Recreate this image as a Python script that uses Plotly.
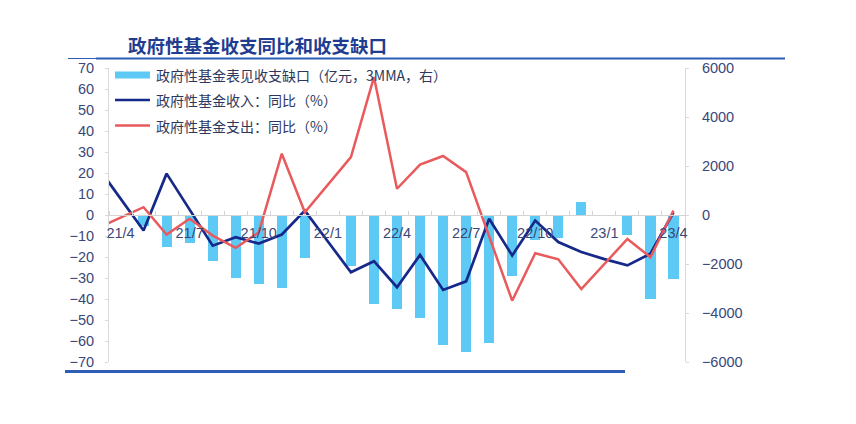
import plotly.graph_objects as go

# ---------------- data ----------------
months = ["21/3", "21/4", "21/5", "21/6", "21/7", "21/8", "21/9", "21/10", "21/11", "21/12",
          "22/1", "22/2", "22/3", "22/4", "22/5", "22/6", "22/7", "22/8", "22/9", "22/10",
          "22/11", "22/12", "23/1", "23/2", "23/3", "23/4"]

income_yoy = [23, 8, -7.4, 19.7, 2.5, -14.6, -10.6, -13.6, -9.3, 2.1,
              -12.6, -27.3, -22.0, -34.4, -19.0, -35.7, -31.6, -1.8, -19.3, -2.6,
              -12.9, -17.6, -21.0, -24.0, -18.4, 1.3]

expend_yoy = [-6.3, -1.2, 3.7, -9.3, -1.8, -9.8, -15.6, -8.3, 29.2, 1.3,
              14.4, 27.6, 65.7, 12.5, 24.0, 28.1, 20.4, -10.2, -40.8, -18.2,
              -21.1, -35.3, -23.3, -11.4, -20.1, 2.1]

gap_3mma = [None, None, -450, -1320, -1155, -1865, -2590, -2800, -2960, -1755,
            None, -2070, -3640, -3845, -4190, -5305, -5580, -5235, -2505, -1005,
            -920, 525, None, -800, -3435, -2615]

tick_labels = ["21/4", "21/7", "21/10", "22/1", "22/4", "22/7", "22/10", "23/1", "23/4"]
left_ticks = [70, 60, 50, 40, 30, 20, 10, 0, -10, -20, -30, -40, -50, -60, -70]
right_ticks = [6000, 4000, 2000, 0, -2000, -4000, -6000]

title_text = "政府性基金收支同比和收支缺口"
legend_names = ["政府性基金表见收支缺口（亿元，3MMA，右）",
                "政府性基金收入：同比（%）",
                "政府性基金支出：同比（%）"]

# ---------------- styles ----------------
C_BAR = "#5ccaf4"
C_NAVY = "#16298a"
C_RED = "#e95a5c"
C_TICK = "#3a4779"
C_TITLE = "#1f3c8f"
C_RULE = "#2f5cb6"
FONT_NUM = "Liberation Sans, Arial, Noto Sans CJK SC"
FONT_CJK = "Noto Sans CJK SC, Liberation Sans"

W, H = 856, 424
L, R, T, B = 109, 685, 68, 362   # plot area in pixels


def px(xp):
    return (xp - L) / (R - L)


def py(yp):
    return (B - yp) / (B - T)


xs = [i - 1 for i in range(len(months))]
idx = {m: i - 1 for i, m in enumerate(months)}

fig = go.Figure()

fig.add_trace(go.Bar(x=xs, y=gap_3mma, marker=dict(color=C_BAR, line=dict(width=0)),
                     width=0.44, yaxis="y", name=legend_names[0], showlegend=False))
fig.add_trace(go.Scatter(x=xs, y=income_yoy, mode="lines", line=dict(color=C_NAVY, width=2.7),
                         yaxis="y2", name=legend_names[1], showlegend=False))
fig.add_trace(go.Scatter(x=xs, y=expend_yoy, mode="lines", line=dict(color=C_RED, width=2.5),
                         yaxis="y2", name=legend_names[2], showlegend=False))

fig.update_layout(
    width=W, height=H,
    margin=dict(l=L, r=W - R, t=T, b=H - B, pad=0),
    paper_bgcolor="white", plot_bgcolor="white",
    bargap=0,
    xaxis=dict(
        range=[-0.5, 24.5], anchor="free", position=0.5,
        tickmode="array", tickvals=[idx[m] for m in tick_labels], ticktext=tick_labels,
        ticks="", showline=True, linecolor="#d4d4d4", linewidth=1.2,
        showgrid=False, zeroline=False,
        tickfont=dict(family=FONT_NUM, size=14.5, color=C_TICK),
        ticklabelstandoff=4,
        minor=dict(tick0=-0.5, dtick=1, ticks="inside", ticklen=4, tickcolor="#d4d4d4"),
    ),
    yaxis=dict(
        range=[-6000, 6000], side="right", tickmode="array", tickvals=right_ticks,
        showgrid=False, zeroline=False, showline=True, linecolor="#d9d9d9", linewidth=1,
        ticks="outside", ticklen=3, tickcolor="#d9d9d9",
        tickfont=dict(family=FONT_NUM, size=14.5, color=C_TICK),
        ticklabelstandoff=10,
    ),
    yaxis2=dict(
        range=[-70, 70], side="left", overlaying="y", tickmode="array", tickvals=left_ticks,
        showgrid=False, zeroline=False, showline=True, linecolor="#d9d9d9", linewidth=1,
        ticks="outside", ticklen=3, tickcolor="#d9d9d9",
        tickfont=dict(family=FONT_NUM, size=14.5, color=C_TICK),
        ticklabelstandoff=8,
    ),
    showlegend=False,
)

shapes = []
annotations = []

# title and rules
annotations.append(dict(text="<b>" + title_text + "</b>", xref="paper", yref="paper",
                        x=px(126), y=py(45), xanchor="left", yanchor="middle", showarrow=False,
                        font=dict(family=FONT_CJK, size=18.5, color=C_TITLE)))
shapes.append(dict(type="line", xref="paper", yref="paper", x0=px(68), x1=px(96),
                   y0=py(58.5), y1=py(58.5), line=dict(color=C_RULE, width=1)))
shapes.append(dict(type="line", xref="paper", yref="paper", x0=px(96), x1=px(785),
                   y0=py(58.5), y1=py(58.5), line=dict(color=C_RULE, width=2)))
shapes.append(dict(type="line", xref="paper", yref="paper", x0=px(65), x1=px(625),
                   y0=py(371.5), y1=py(371.5), line=dict(color=C_RULE, width=3)))

# custom legend
leg_y = [75, 100, 125.5]
shapes.append(dict(type="rect", xref="paper", yref="paper", x0=px(115), x1=px(150),
                   y0=py(leg_y[0] - 3.5), y1=py(leg_y[0] + 3.5), fillcolor=C_BAR, line=dict(width=0)))
shapes.append(dict(type="line", xref="paper", yref="paper", x0=px(115), x1=px(150),
                   y0=py(leg_y[1]), y1=py(leg_y[1]), line=dict(color=C_NAVY, width=2.7)))
shapes.append(dict(type="line", xref="paper", yref="paper", x0=px(115), x1=px(150),
                   y0=py(leg_y[2]), y1=py(leg_y[2]), line=dict(color=C_RED, width=2.5)))
for name, yy in zip(legend_names, leg_y):
    annotations.append(dict(text=name, xref="paper", yref="paper", x=px(154), y=py(yy),
                            xanchor="left", yanchor="middle", showarrow=False,
                            font=dict(family=FONT_CJK, size=14, color="#2f375c")))

fig.update_layout(shapes=shapes, annotations=annotations)

fig.write_html("out.html")
